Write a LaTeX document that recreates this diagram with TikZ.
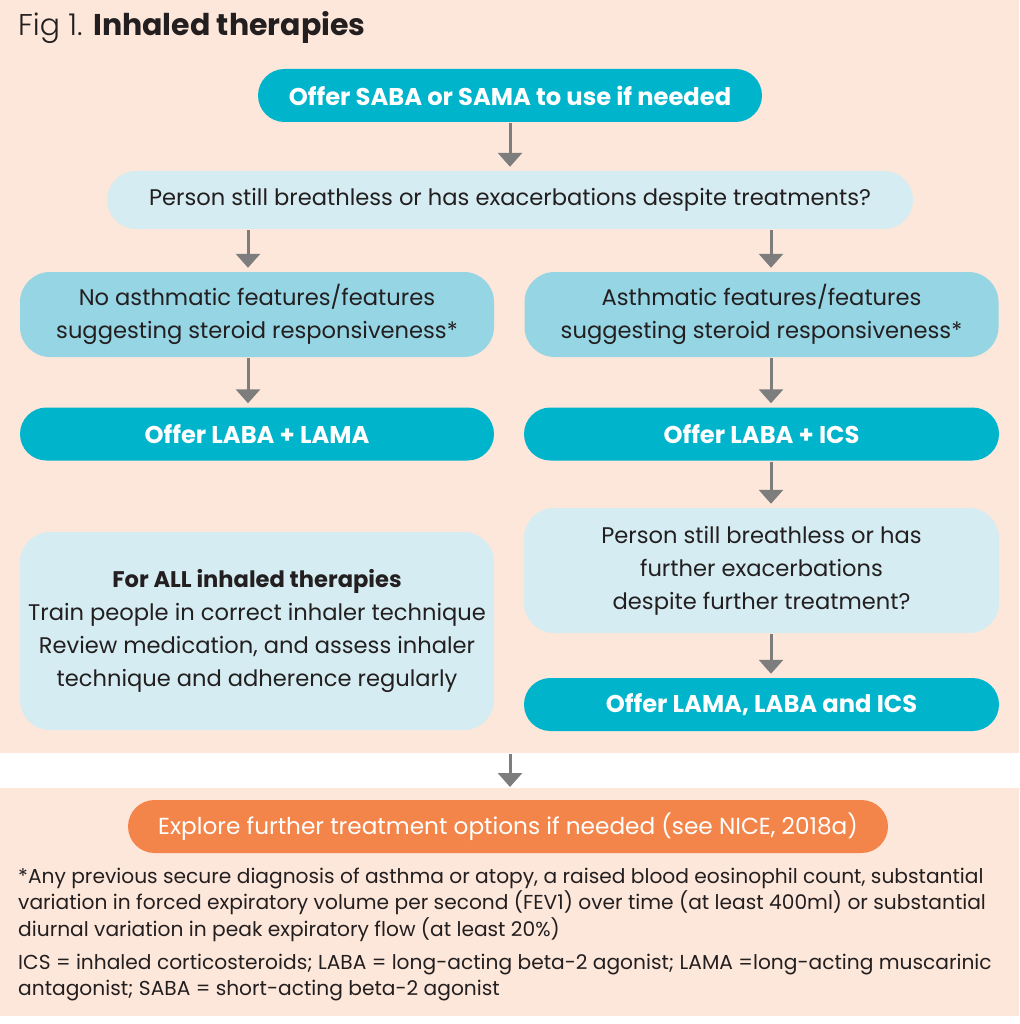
\documentclass[tikz,border=0pt]{standalone}
\usepackage{fontspec}
\setmainfont{Poppins}
\newfontfamily\lightface{Poppins Light}
\usetikzlibrary{arrows.meta}

\definecolor{peach}{HTML}{FDE7DA}
\definecolor{tealbox}{HTML}{00B4CB}
\definecolor{midblue}{HTML}{96D5E4}
\definecolor{paleblue}{HTML}{D5EDF2}
\definecolor{orangebox}{HTML}{F4854A}
\definecolor{arrowgray}{HTML}{7D7D7D}
\definecolor{inktext}{HTML}{231F20}

\begin{document}
\begin{tikzpicture}[x=1pt,y=-1pt,
    offer/.style={fill=tealbox, text=white, rounded corners=26.5pt, minimum height=53pt,
        inner sep=0pt, align=center, font=\fontsize{24.2}{33}\selectfont\bfseries},
    query/.style={fill=paleblue, text=inktext, inner sep=0pt, align=center,
        font=\fontsize{22.6}{33}\selectfont},
    feature/.style={fill=midblue, text=inktext, rounded corners=30pt, minimum height=85pt,
        minimum width=474pt, inner sep=0pt, align=center, font=\fontsize{22.6}{33}\selectfont},
    flow/.style={draw=arrowgray, line width=3pt, -{Triangle[width=24pt,length=14pt]},
        shorten <=1pt, shorten >=4pt},
    note/.style={anchor=base west, inner sep=0pt, text=inktext, font=\fontsize{20.2}{26}\selectfont}]

  % background panels
  \useasboundingbox (0,0) rectangle (1019,1024);
  \node[fill=peach, anchor=north west, minimum width=1019pt, minimum height=753pt, inner sep=0pt] (toppanel) at (0,0) {};
  \node[fill=peach, anchor=north west, minimum width=1019pt, minimum height=228pt, inner sep=0pt] (lowpanel) at (0,788) {};

  \node[anchor=base west, inner sep=0pt, text=inktext, font=\fontsize{30}{34}\selectfont] (title) at (18,36)
      {{\lightface Fig 1.} \textbf{Inhaled therapies}};

  % main path
  \node[offer, minimum width=504pt] (saba) at (510,95.5) {Offer SABA or SAMA to use if needed};
  \node[query, rounded corners=29pt, minimum width=806pt, minimum height=58pt] (q1) at (510,200)
      {Person still breathless or has exacerbations despite treatments?};

  \node[feature] (noasth) at (257,314.5) {No asthmatic features/features\\suggesting steroid responsiveness*};
  \node[feature] (asth) at (761.5,314.5) {Asthmatic features/features\\suggesting steroid responsiveness*};

  \node[offer, minimum width=474pt] (labalama) at (257,434) {Offer LABA + LAMA};
  \node[offer, minimum width=475pt] (labaics) at (761.5,434) {Offer LABA + ICS};

  \node[query, rounded corners=30pt, minimum width=475pt, minimum height=125pt] (q2) at (761.5,570.5)
      {Person still breathless or has\\further exacerbations\\despite further treatment?};
  \node[offer, minimum width=475pt] (triple) at (761.5,704.5) {Offer LAMA, LABA and ICS};

  \node[query, rounded corners=30pt, minimum width=474pt, minimum height=198pt] (allinh) at (257,631)
      {\textbf{For ALL inhaled therapies}\\Train people in correct inhaler technique\\Review medication, and assess inhaler\\technique and adherence regularly};

  \node[fill=orangebox, text=white, rounded corners=26.5pt, minimum width=760pt, minimum height=53pt,
      inner sep=0pt, font=\fontsize{23.2}{33}\selectfont] (explore) at (508,826.5)
      {Explore further treatment options if needed (see NICE, 2018a)};

  % connectors
  \draw[flow] (saba) -- (q1);
  \draw[flow] ([xshift=-9pt]q1.south -| noasth.north) -- ([xshift=-9pt]noasth.north);
  \draw[flow] ([xshift=9.5pt]q1.south -| asth.north) -- ([xshift=9.5pt]asth.north);
  \draw[flow] ([xshift=-9pt]noasth.south) -- ([xshift=-9pt]labalama.north);
  \draw[flow] ([xshift=9.5pt]asth.south) -- ([xshift=9.5pt]labaics.north);
  \draw[flow] ([xshift=9.5pt]labaics.south) -- ([xshift=9.5pt]q2.north);
  \draw[flow] ([xshift=9.5pt]q2.south) -- ([xshift=9.5pt]triple.north);
  \draw[flow, shorten >=1pt] (toppanel.south -| saba.south) -- (lowpanel.north -| saba.south);

  % footnotes
  \node[note] (fn1) at (18,883) {*Any previous secure diagnosis of asthma or atopy, a raised blood eosinophil count, substantial};
  \node[note] (fn2) at (18,909.5) {variation in forced expiratory volume per second (FEV1) over time (at least 400ml) or substantial};
  \node[note] (fn3) at (18,936) {diurnal variation in peak expiratory flow (at least 20\%)};
  \node[note] (fn4) at (18,969) {ICS = inhaled corticosteroids; LABA = long-acting beta-2 agonist; LAMA =long-acting muscarinic};
  \node[note] (fn5) at (18,995.5) {antagonist; SABA = short-acting beta-2 agonist};
\end{tikzpicture}
\end{document}
